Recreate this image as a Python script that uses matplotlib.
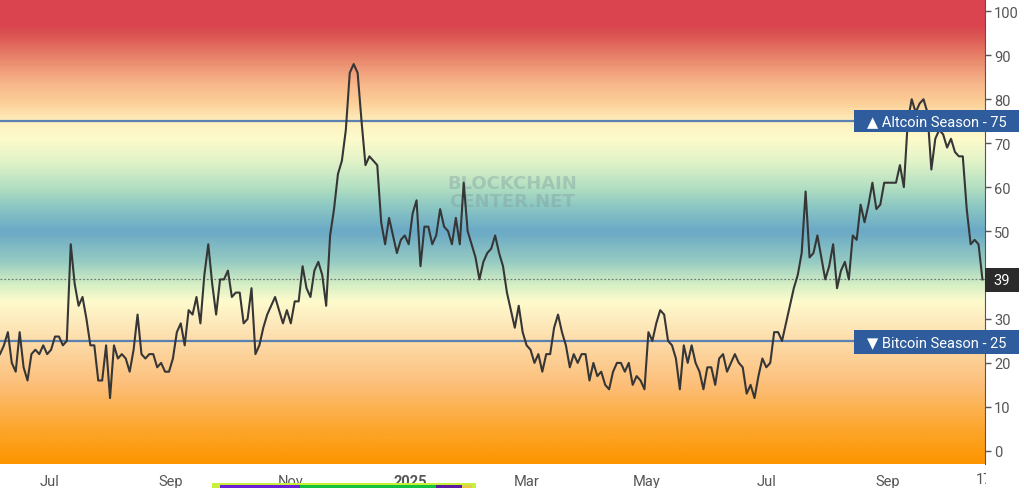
import matplotlib
matplotlib.use("Agg")
import matplotlib.pyplot as plt
from matplotlib.colors import LinearSegmentedColormap
from matplotlib.patches import Rectangle
import matplotlib.dates as mdates
import numpy as np
import pandas as pd

plt.rcParams['font.family'] = ['Roboto', 'DejaVu Sans']

# altcoin season index, one reading every 2 days
start_date = "2024-06-06"
step_days = 2
index_values = [
    22, 24, 27, 20, 18, 27, 19, 16, 22, 23,
    22, 24, 22, 23, 26, 26, 24, 25, 47, 38,
    33, 35, 30, 24, 24, 16, 16, 24, 12, 24,
    21, 22, 21, 18, 23, 31, 22, 21, 22, 22,
    19, 20, 18, 18, 21, 27, 29, 24, 32, 31,
    35, 29, 40, 47, 38, 31, 39, 39, 41, 35,
    36, 36, 29, 30, 37, 22, 24, 28, 31, 33,
    35, 32, 29, 32, 29, 34, 34, 42, 37, 35,
    41, 43, 40, 33, 49, 55, 63, 66, 73, 86,
    88, 86, 75, 65, 67, 66, 65, 52, 47, 53,
    49, 45, 48, 49, 47, 54, 57, 42, 51, 51,
    47, 49, 55, 51, 50, 47, 53, 47, 61, 50,
    47, 44, 39, 43, 45, 46, 49, 45, 42, 36,
    32, 28, 33, 27, 24, 23, 20, 22, 18, 22,
    22, 28, 31, 27, 24, 19, 22, 20, 22, 22,
    16, 20, 17, 18, 15, 14, 18, 20, 20, 18,
    20, 15, 17, 16, 14, 27, 25, 29, 32, 31,
    25, 24, 21, 14, 24, 20, 24, 20, 18, 14,
    19, 19, 15, 21, 22, 18, 20, 22, 20, 19,
    13, 15, 12, 17, 21, 19, 20, 27, 27, 25,
    29, 33, 37, 40, 45, 59, 44, 45, 49, 44,
    39, 42, 47, 37, 41, 43, 39, 49, 48, 56,
    52, 56, 61, 55, 56, 61, 61, 61, 61, 65,
    60, 75, 80, 77, 79, 80, 77, 64, 71, 73,
    72, 69, 71, 68, 67, 67, 55, 47, 48, 47,
    39,
]

tick_dates = ["2024-07-01", "2024-09-01", "2024-11-01", "2025-01-01",
              "2025-03-01", "2025-05-01", "2025-07-01", "2025-09-01"]
tick_labels = ["Jul", "Sep", "Nov", "2025", "Mar", "May", "Jul", "Sep"]
y_ticks = list(range(0, 101, 10))
altcoin_level = 75
bitcoin_level = 25

# background bands (index value -> colour)
bg_levels = [-3, 5, 15, 25, 30, 34, 38, 43, 50, 56, 60, 66, 71, 75, 79, 84, 89, 94, 97, 102.8]
bg_colors = ["#fd9500", "#fda72e", "#fcbf7a", "#fddcaa", "#feedc0", "#fdfbcc", "#d3eec4",
             "#96cbc2", "#6aa9c6", "#8fc9c3", "#b2dfc1", "#e2f3c8", "#fdfbcc", "#fef0c0",
             "#fdd29a", "#f7b489", "#ea8a6e", "#dd5c56", "#d9444f", "#d9444f"]

W, H = 1024, 489
y_min, y_max = -3.0, 102.8

dates = pd.date_range(start_date, periods=len(index_values), freq=f"{step_days}D")
x0 = pd.Timestamp(start_date)
x1 = x0 + pd.Timedelta(days=501.3)

fig = plt.figure(figsize=(W / 100, H / 100), dpi=100)
ax = fig.add_axes([0, 1 - 465 / H, 985 / W, 465 / H])

pos = [(v - y_min) / (y_max - y_min) for v in bg_levels]
cmap = LinearSegmentedColormap.from_list("season", list(zip(pos, bg_colors)))
grad = np.linspace(y_min, y_max, 600).reshape(-1, 1)
ax.imshow(grad, cmap=cmap, vmin=y_min, vmax=y_max, aspect="auto", origin="lower",
          extent=[mdates.date2num(x0), mdates.date2num(x1), y_min, y_max],
          interpolation="bilinear", zorder=0)

ax.axhline(altcoin_level, color="#5b80b2", lw=1.6, zorder=2)
ax.axhline(bitcoin_level, color="#5b80b2", lw=1.6, zorder=2)
ax.axhline(index_values[-1], color="#6f7f76", lw=0.9, ls=(0, (1.5, 1.5)), zorder=2)

ax.plot(dates, index_values, color="#363636", lw=1.5, zorder=3)

ax.text(0.52, 0.585, "BLOCKCHAIN\nCENTER.NET", transform=ax.transAxes, ha="center",
        va="center", fontsize=13, fontweight="bold", color="#7f9ca0", alpha=0.4,
        linespacing=0.95, family=["DejaVu Sans"], zorder=1)

ax.set_xlim(x0, x1)
ax.set_ylim(y_min, y_max)
ax.yaxis.tick_right()
ax.set_yticks(y_ticks)
# the 40 label sits under the last-value tag
ax.set_yticklabels(["" if t == 40 else str(t) for t in y_ticks])
ax.set_xticks(pd.to_datetime(tick_dates))
ax.set_xticklabels(tick_labels)
for lab in ax.get_xticklabels():
    if lab.get_text() == "2025":
        lab.set_fontweight("bold")
ax.tick_params(axis="y", length=4, width=1, colors="#555555", labelsize=10.5, pad=2.5)
ax.tick_params(axis="x", length=0, colors="#555555", labelsize=10.5, pad=7)
for side in ["top", "left", "bottom"]:
    ax.spines[side].set_visible(False)
ax.spines["right"].set_color("#555555")


def fx(x):
    return x / W


def fy(y):
    return 1 - y / H


def box(x_a, y_a, x_b, y_b, color):
    fig.add_artist(Rectangle((fx(x_a), fy(y_b)), (x_b - x_a) / W, (y_b - y_a) / H,
                             transform=fig.transFigure, facecolor=color,
                             edgecolor="none", zorder=5))


# season labels on the price scale
box(854, 111, 1019, 133, "#2f5c9c")
fig.text(fx(937), fy(122), "▲ Altcoin Season - %d" % altcoin_level, ha="center",
         va="center", color="white", fontsize=10.5, zorder=6)
box(854, 331, 1019, 355, "#2f5c9c")
fig.text(fx(937), fy(343), "▼ Bitcoin Season - %d" % bitcoin_level, ha="center",
         va="center", color="white", fontsize=10.5, zorder=6)
box(985, 269, 1019, 293, "#2b2b2b")
fig.text(fx(1002), fy(281), "%d" % index_values[-1], ha="center", va="center",
         color="white", fontsize=10.5, zorder=6)

# last date label, cut off by the price scale
fig.text(fx(984), fy(480), "17", ha="center", va="center", color="#555555",
         fontsize=10.5, zorder=4)
box(985.5, 466, 1024, 489, "white")

# strip of a toolbar peeking in at the bottom
box(212, 484, 476, 489, "#c6f03a")
box(220, 486, 300, 489, "#6b1fd6")
box(300, 486, 436, 489, "#12c13e")
box(436, 486, 462, 489, "#5b1aa0")
box(462, 486, 472, 489, "#e6c84a")

fig.savefig("out.png", dpi=100)
